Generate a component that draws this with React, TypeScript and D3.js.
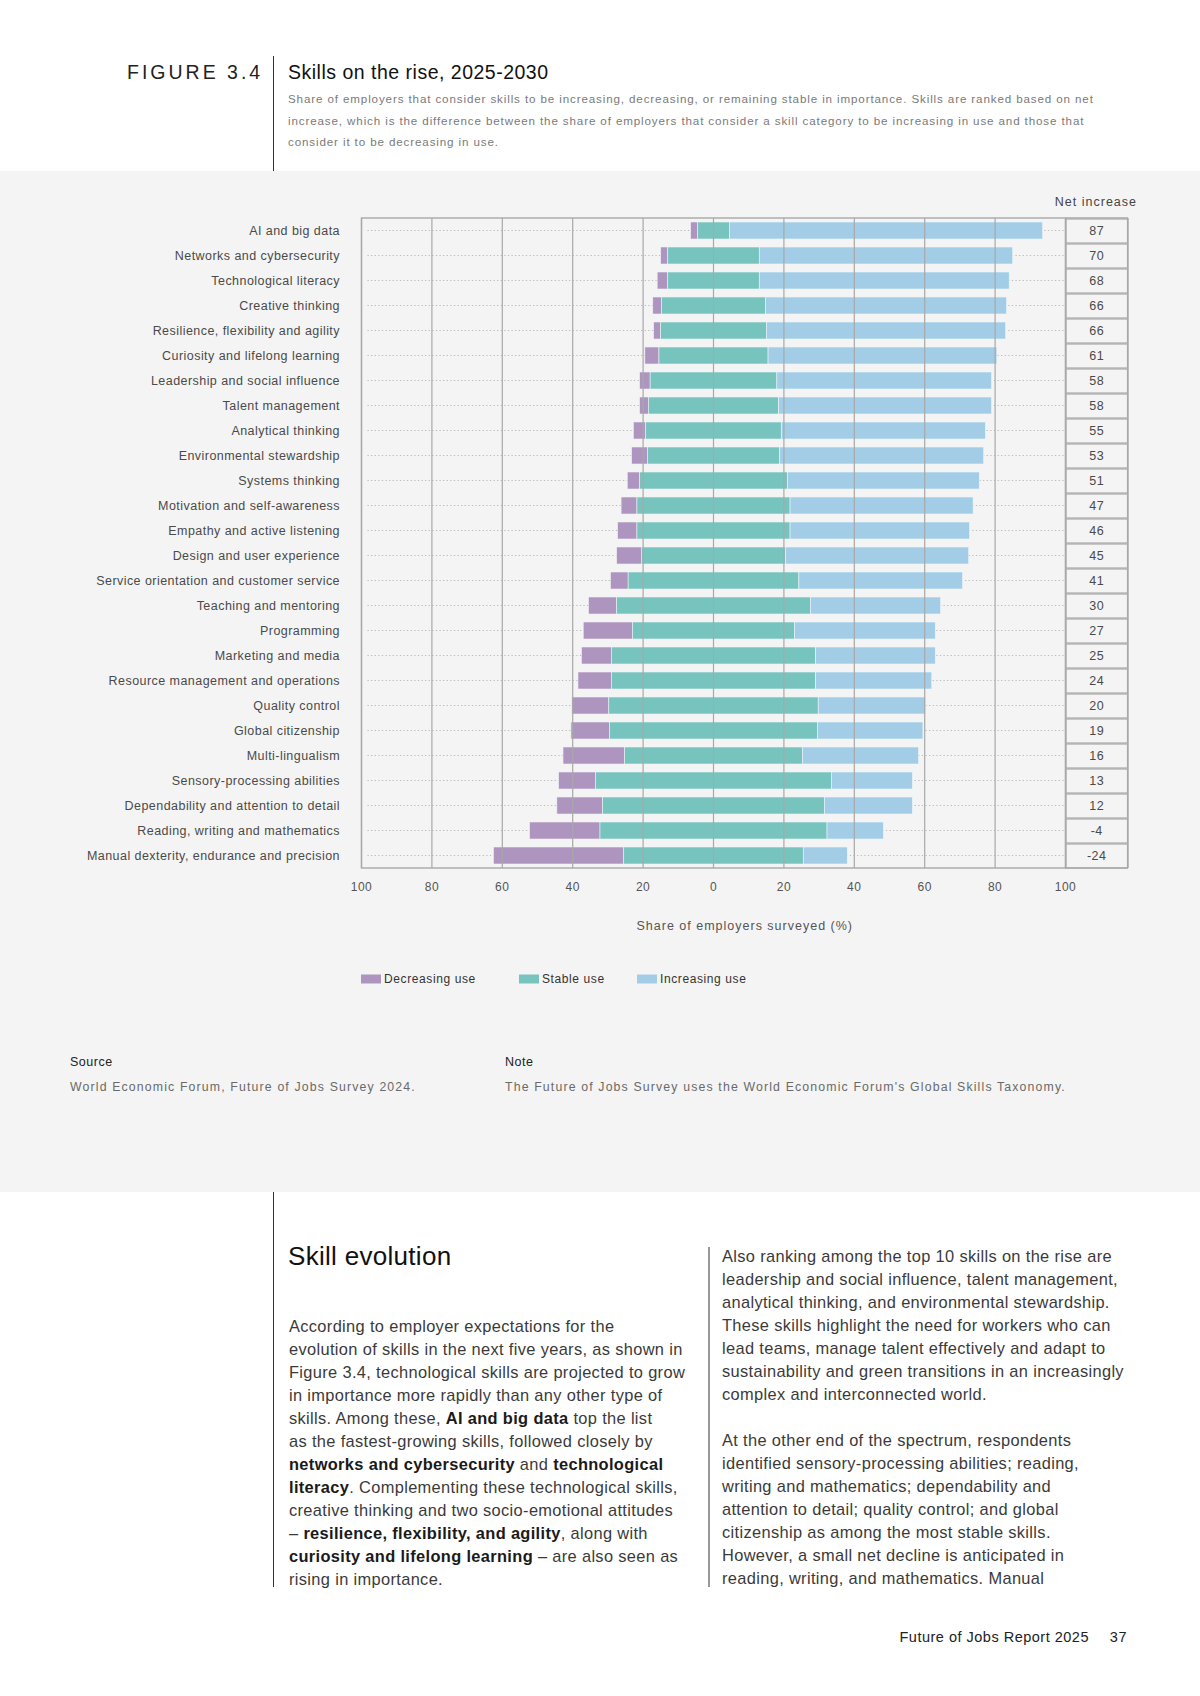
import * as d3 from "d3";

// Figure 3.4 - Skills on the rise, 2025-2030
const skills = [
  "AI and big data",
  "Networks and cybersecurity",
  "Technological literacy",
  "Creative thinking",
  "Resilience, flexibility and agility",
  "Curiosity and lifelong learning",
  "Leadership and social influence",
  "Talent management",
  "Analytical thinking",
  "Environmental stewardship",
  "Systems thinking",
  "Motivation and self-awareness",
  "Empathy and active listening",
  "Design and user experience",
  "Service orientation and customer service",
  "Teaching and mentoring",
  "Programming",
  "Marketing and media",
  "Resource management and operations",
  "Quality control",
  "Global citizenship",
  "Multi-lingualism",
  "Sensory-processing abilities",
  "Dependability and attention to detail",
  "Reading, writing and mathematics",
  "Manual dexterity, endurance and precision",
];

const decreasing = [2, 2, 3, 2.5, 2, 4, 3, 2.5, 3.5, 4.5, 3.5, 4.5, 5.5, 7, 5, 8, 14, 8.5, 9.5, 10.5, 11, 17.5, 10.5, 13, 20, 37];
const stable = [9, 26, 26, 29.5, 30, 31, 36, 37, 38.5, 37.5, 42, 43.5, 43.5, 41, 48.5, 55, 46, 58, 58, 59.5, 59, 50.5, 67, 63, 64.5, 51];
const increasing = [89, 72, 71, 68.5, 68, 65, 61, 60.5, 58, 58, 54.5, 52, 51, 52, 46.5, 37, 40, 34, 33, 30.5, 30, 33, 23, 25, 16, 12.5];
const netIncrease = [87, 70, 68, 66, 66, 61, 58, 58, 55, 53, 51, 47, 46, 45, 41, 30, 27, 25, 24, 20, 19, 16, 13, 12, -4, -24];

const xTicks = [-100, -80, -60, -40, -20, 0, 20, 40, 60, 80, 100];

const subtitleLines = [
  "Share of employers that consider skills to be increasing, decreasing, or remaining stable in importance. Skills are ranked based on net",
  "increase, which is the difference between the share of employers that consider a skill category to be increasing in use and those that",
  "consider it to be decreasing in use.",
];

// [text, bold] segments per line
const leftColumn: [string, boolean][][] = [
  [["According to employer expectations for the", false]],
  [["evolution of skills in the next five years, as shown in", false]],
  [["Figure 3.4, technological skills are projected to grow", false]],
  [["in importance more rapidly than any other type of", false]],
  [["skills. Among these, ", false], ["AI and big data", true], [" top the list", false]],
  [["as the fastest-growing skills, followed closely by", false]],
  [["networks and cybersecurity", true], [" and ", false], ["technological", true]],
  [["literacy", true], [". Complementing these technological skills,", false]],
  [["creative thinking and two socio-emotional attitudes", false]],
  [["– ", false], ["resilience, flexibility, and agility", true], [", along with", false]],
  [["curiosity and lifelong learning", true], [" – are also seen as", false]],
  [["rising in importance.", false]],
];

const rightColumn = [
  "Also ranking among the top 10 skills on the rise are",
  "leadership and social influence, talent management,",
  "analytical thinking, and environmental stewardship.",
  "These skills highlight the need for workers who can",
  "lead teams, manage talent effectively and adapt to",
  "sustainability and green transitions in an increasingly",
  "complex and interconnected world.",
  "",
  "At the other end of the spectrum, respondents",
  "identified sensory-processing abilities; reading,",
  "writing and mathematics; dependability and",
  "attention to detail; quality control; and global",
  "citizenship as among the most stable skills.",
  "However, a small net decline is anticipated in",
  "reading, writing, and mathematics. Manual",
];

const legendItems = ["Decreasing use", "Stable use", "Increasing use"];

const COLORS = { dec: "#ae95bf", stable: "#77c4bf", inc: "#a3cde6" };
const FONT = "'Liberation Sans', Arial, sans-serif";

const W = 1200;
const H = 1696;
const PLOT = { left: 361.5, right: 1065.5, top: 218, bottom: 868 };
const NET_RIGHT = 1128;

export default function App() {
  const xScale = d3.scaleLinear().domain([-100, 100]).range([PLOT.left, PLOT.right]);
  const yScale = d3
    .scaleBand<string>()
    .domain(skills)
    .range([PLOT.top, PLOT.bottom])
    .paddingInner(0.32)
    .paddingOuter(0.16);
  const step = yScale.step();
  const bw = yScale.bandwidth();

  const rows = skills.map((s, i) => {
    const half = stable[i] / 2;
    const y = yScale(s)!;
    const cy = y + bw / 2;
    return (
      <g key={s}>
        <text x={340} y={cy} dy="0.35em" textAnchor="end" fontSize={12.5} letterSpacing={0.45} fill="#4a4a4a">
          {s}
        </text>
        <line
          x1={PLOT.left + 6}
          x2={PLOT.right}
          y1={cy}
          y2={cy}
          stroke="#b8b8b8"
          strokeWidth={1}
          strokeDasharray="1.2 2.4"
        />
        <rect
          x={xScale(-half - decreasing[i])}
          width={xScale(-half) - xScale(-half - decreasing[i])}
          y={y}
          height={bw}
          fill={COLORS.dec}
          stroke="#f0eef4"
          strokeWidth={0.6}
        />
        <rect
          x={xScale(-half)}
          width={xScale(half) - xScale(-half)}
          y={y}
          height={bw}
          fill={COLORS.stable}
          stroke="#eaf4f3"
          strokeWidth={0.6}
        />
        <rect
          x={xScale(half)}
          width={xScale(half + increasing[i]) - xScale(half)}
          y={y}
          height={bw}
          fill={COLORS.inc}
          stroke="#eef5fa"
          strokeWidth={0.6}
        />
        <rect
          x={PLOT.right + 0.5}
          y={y - (step - bw) / 2 + 1}
          width={NET_RIGHT - PLOT.right - 1}
          height={step - 1}
          fill="none"
          stroke="#a9a9a9"
          strokeWidth={1.2}
        />
        <text
          x={(PLOT.right + NET_RIGHT) / 2}
          y={cy}
          dy="0.35em"
          textAnchor="middle"
          fontSize={12.5}
          letterSpacing={0.5}
          fill="#4a4a4a"
        >
          {netIncrease[i]}
        </text>
      </g>
    );
  });

  const legendX = [361, 519, 637];
  const legendColors = [COLORS.dec, COLORS.stable, COLORS.inc];

  return (
    <svg
      width={W}
      height={H}
      viewBox={`0 0 ${W} ${H}`}
      style={{ position: "absolute", left: 0, top: 0, display: "block", background: "#fff" }}
      fontFamily={FONT}
    >
      <rect x={0} y={0} width={W} height={H} fill="#fff" />
      {/* header */}
      <text x={127} y={72.5} dy="0.35em" fontSize={19.5} letterSpacing={3.0} fill="#222">
        FIGURE 3.4
      </text>
      <line x1={273.5} x2={273.5} y1={56} y2={171} stroke="#333" strokeWidth={1} />
      <text x={288} y={72.5} dy="0.35em" fontSize={19.5} letterSpacing={0.5} fontWeight={500} fill="#111">
        Skills on the rise, 2025-2030
      </text>
      {subtitleLines.map((l, i) => (
        <text key={i} x={288} y={99 + i * 21.5} dy="0.35em" fontSize={11.6} letterSpacing={0.88} fill="#7a7a7a">
          {l}
        </text>
      ))}

      {/* grey panel */}
      <rect x={0} y={171} width={W} height={1192 - 171} fill="#f4f4f4" />

      <text x={1137} y={201.5} dy="0.35em" textAnchor="end" fontSize={12.5} letterSpacing={1} fill="#444">
        Net increase
      </text>

      {rows}

      {/* vertical grid lines */}
      {xTicks.map((t) => (
        <line
          key={t}
          x1={xScale(t)}
          x2={xScale(t)}
          y1={PLOT.top}
          y2={PLOT.bottom}
          stroke="#a8a8a8"
          strokeWidth={1.2}
        />
      ))}
      <rect
        x={PLOT.left}
        y={PLOT.top}
        width={PLOT.right - PLOT.left}
        height={PLOT.bottom - PLOT.top}
        fill="none"
        stroke="#a8a8a8"
        strokeWidth={1.4}
      />
      <line x1={PLOT.right} x2={NET_RIGHT} y1={PLOT.bottom} y2={PLOT.bottom} stroke="#a8a8a8" strokeWidth={1.4} />
      <line x1={NET_RIGHT} x2={NET_RIGHT} y1={PLOT.top} y2={PLOT.bottom} stroke="#a8a8a8" strokeWidth={1.4} />
      <line x1={PLOT.right} x2={NET_RIGHT} y1={PLOT.top} y2={PLOT.top} stroke="#a8a8a8" strokeWidth={1.4} />

      {/* x axis labels */}
      {xTicks.map((t) => (
        <text
          key={t}
          x={xScale(t)}
          y={887}
          dy="0.35em"
          textAnchor="middle"
          fontSize={12}
          letterSpacing={0.5}
          fill="#555"
        >
          {Math.abs(t)}
        </text>
      ))}
      <text
        x={(PLOT.left + NET_RIGHT) / 2}
        y={926}
        dy="0.35em"
        textAnchor="middle"
        fontSize={12.5}
        letterSpacing={1}
        fill="#555"
      >
        Share of employers surveyed (%)
      </text>

      {/* legend */}
      {legendItems.map((l, i) => (
        <g key={l}>
          <rect x={legendX[i]} y={974.5} width={20} height={9} fill={legendColors[i]} />
          <text x={legendX[i] + 23} y={979} dy="0.35em" fontSize={12} letterSpacing={0.6} fill="#333">
            {l}
          </text>
        </g>
      ))}

      {/* source & note */}
      <text x={70} y={1062} dy="0.35em" fontSize={12.5} fontWeight={500} letterSpacing={0.5} fill="#222">
        Source
      </text>
      <text x={70} y={1087} dy="0.35em" fontSize={12.3} letterSpacing={1.15} fill="#6a6a6a">
        World Economic Forum, Future of Jobs Survey 2024.
      </text>
      <text x={505} y={1062} dy="0.35em" fontSize={12.5} fontWeight={500} letterSpacing={0.5} fill="#222">
        Note
      </text>
      <text x={505} y={1087} dy="0.35em" fontSize={12.3} letterSpacing={1.15} fill="#6a6a6a">
        The Future of Jobs Survey uses the World Economic Forum's Global Skills Taxonomy.
      </text>

      {/* body text */}
      <line x1={273.5} x2={273.5} y1={1192} y2={1587} stroke="#333" strokeWidth={1} />
      <line x1={709} x2={709} y1={1247} y2={1587} stroke="#333" strokeWidth={1} />
      <text x={288} y={1256} dy="0.35em" fontSize={26} letterSpacing={0.3} fontWeight={500} fill="#111">
        Skill evolution
      </text>
      {leftColumn.map((segs, i) => (
        <text key={i} x={289} y={1326 + i * 23} dy="0.35em" fontSize={16.4} letterSpacing={0.35} fill="#3a3a3a">
          {segs.map(([t, b], j) => (
            <tspan key={j} fontWeight={b ? 700 : 400} fill={b ? "#1a1a1a" : "#3a3a3a"}>
              {t}
            </tspan>
          ))}
        </text>
      ))}
      {rightColumn.map((l, i) => (
        <text key={i} x={722} y={1256.7 + i * 23} dy="0.35em" fontSize={16.4} letterSpacing={0.35} fill="#3a3a3a">
          {l}
        </text>
      ))}

      {/* footer */}
      <text x={1089} y={1637} dy="0.35em" textAnchor="end" fontSize={14.5} letterSpacing={0.5} fontWeight={500} fill="#222">
        Future of Jobs Report 2025
      </text>
      <text x={1127} y={1637} dy="0.35em" textAnchor="end" fontSize={14.5} letterSpacing={0.5} fontWeight={500} fill="#222">
        37
      </text>
    </svg>
  );
}
